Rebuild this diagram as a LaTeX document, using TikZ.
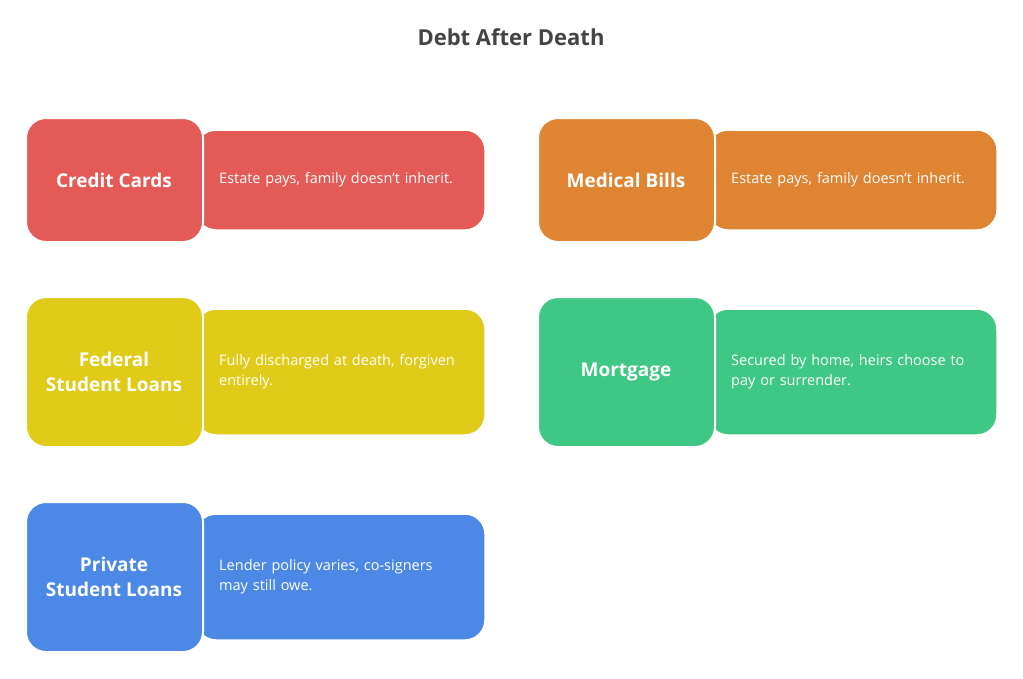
\documentclass[tikz,border=0pt]{standalone}
\usepackage{fontspec}
\setmainfont{Open Sans}
\definecolor{cred}{HTML}{E35A57}
\definecolor{corange}{HTML}{DE8432}
\definecolor{cyellow}{HTML}{DFCB18}
\definecolor{cgreen}{HTML}{3FC784}
\definecolor{cblue}{HTML}{4C88E6}
\definecolor{ctitle}{HTML}{444444}
\tikzset{
  descbox/.style={rounded corners=20pt, draw=white, line width=1.5pt},
  headbox/.style={rounded corners=20pt, draw=white, line width=2pt},
  headtext/.style={text=white, font=\fontsize{19}{25}\selectfont\bfseries, align=center},
  desctext/.style={text=white, font=\fontsize{14.5}{20}\selectfont, align=left, text width=265pt, anchor=west, inner sep=0pt},
}
\begin{document}
\begin{tikzpicture}[x=1pt,y=-1pt]
\useasboundingbox[fill=white] (0,0) rectangle (1023,678);
\node (title) at (511,37) {\fontsize{22}{26}\selectfont\bfseries\color{ctitle}Debt After Death};
\foreach \x/\y/\h/\c/\head/\desc/\nm in {
 26/118/124/cred/{Credit Cards}/{Estate pays, family doesn't inherit.}/cc,
 538/118/124/corange/{Medical Bills}/{Estate pays, family doesn't inherit.}/mb,
 26/297/150/cyellow/{Federal\\Student Loans}/{Fully discharged at death, forgiven\\entirely.}/fs,
 538/297/150/cgreen/{Mortgage}/{Secured by home, heirs choose to\\pay or surrender.}/mo,
 26/502/150/cblue/{Private\\Student Loans}/{Lender policy varies, co-signers\\may still owe.}/ps}{
  \fill[\c, descbox] (\x+170,\y+12) rectangle (\x+459,\y+\h-12);
  \fill[\c, headbox] (\x,\y) rectangle (\x+177,\y+\h);
  \node[headtext] (\nm h) at (\x+88,\y+\h/2) {\head};
  \node[desctext] (\nm d) at (\x+193,\y+\h/2) {\desc};
}
\end{tikzpicture}
\end{document}
